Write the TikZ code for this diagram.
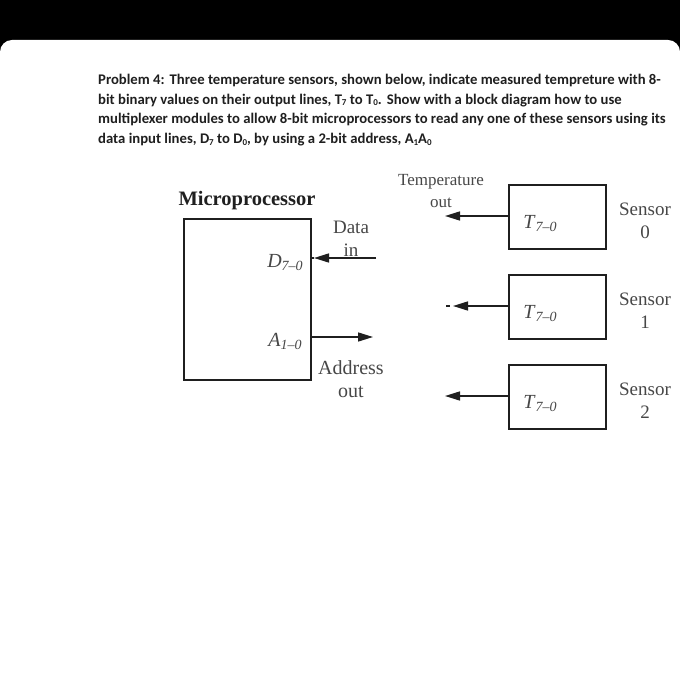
\documentclass[tikz,border=0pt]{standalone}
\usepackage{fontspec}
\setmainfont{Liberation Serif}
\newfontfamily\probfont{Carlito}
\usetikzlibrary{arrows.meta}
\definecolor{ink}{gray}{0.12}
\definecolor{labelink}{gray}{0.28}
\tikzset{
  x=1pt,y=-1pt,
  blockbox/.style={draw=ink,line width=1.9pt,minimum width=#1,inner sep=0pt,anchor=north west},
  lab/.style={text=labelink,font=\fontsize{19}{23}\selectfont,align=center,inner sep=0pt},
  italab/.style={text=labelink,font=\fontsize{20}{22}\selectfont,inner sep=0pt},
  wire/.style={draw=ink,line width=1.5pt},
  tipwire/.style={wire,-{Triangle[length=15pt,width=9pt]}},
}
\newcommand{\sbs}[1]{{\fontsize{9}{10}\selectfont\raisebox{-1.5pt}{#1}}}
\newcommand{\subl}[1]{{\fontsize{14}{15}\selectfont\raisebox{-3pt}{\textit{#1}}}}
\begin{document}
\begin{tikzpicture}
\useasboundingbox (0,0) rectangle (680,700);
\fill[black] (0,0) rectangle (680,700);
\fill[white,rounded corners=12pt] (0,720) -- (0,40) -- (680,40) -- (680,720) -- cycle;
\fill[white] (0,60) rectangle (680,700);

\node[anchor=north west,inner sep=0pt,text width=582pt,align=left,text=ink] (prob) at (98,74)
 {\probfont\bfseries\fontsize{14.7}{19.7}\selectfont
 Problem 4: Three temperature sensors, shown below, indicate measured tempreture with 8-\\
 bit binary values on their output lines, T\sbs{7} to T\sbs{0}. Show with a block diagram how to use\\
 multiplexer modules to allow 8-bit microprocessors to read any one of these sensors using its\\
 data input lines, D\sbs{7} to D\sbs{0}, by using a 2-bit address, A\sbs{1}A\sbs{0}\par};

\node[font=\bfseries\fontsize{20.5}{22}\selectfont,text=ink,inner sep=0pt] (mptitle) at (247,201) {Microprocessor};
\node[blockbox=127pt,minimum height=161pt] (mp) at (183,218) {};
\node[italab] (dlab) at (285,263) {\textit{D}\subl{7--0}};
\node[italab] (alab) at (285,341) {\textit{A}\subl{1--0}};
\node[lab,anchor=north] (datain) at (351,221) {Data\\in};
\node[lab,anchor=north,font=\fontsize{20}{23}\selectfont] (addrout) at (351,360) {Address\\out};

\coordinate (dend) at (376,258);
\coordinate (dtip) at (314,258);
\coordinate (astart) at (mp.east |- 0,337);
\coordinate (aend) at (373,337);
\draw[tipwire] (dend) -- (dtip);
\draw[wire] (dtip) -- (dtip -| mp.east);
\draw[tipwire] (astart) -- (aend);

\node[lab,anchor=north,font=\fontsize{17}{22}\selectfont] (tempout) at (441,174) {Temperature\\out};

\node[blockbox=97pt,minimum height=64pt] (s0) at (508,184) {};
\node[blockbox=97pt,minimum height=64pt] (s1) at (508,274) {};
\node[blockbox=97pt,minimum height=64pt] (s2) at (508,364) {};

\node[italab] (t0) at (540,224) {\textit{T}\subl{7--0}};
\node[italab] (t1) at (540,314) {\textit{T}\subl{7--0}};
\node[italab] (t2) at (540,404) {\textit{T}\subl{7--0}};

\node[lab] (n0) at (645,221) {Sensor\\0};
\node[lab] (n1) at (645,311) {Sensor\\1};
\node[lab] (n2) at (645,401) {Sensor\\2};

\coordinate (e0) at (445,216);
\coordinate (e1) at (453,306);
\coordinate (e1a) at (446,306);
\coordinate (e1b) at (450,306);
\coordinate (e2) at (445,396);
\draw[tipwire] (s0.west |- e0) -- (e0);
\draw[tipwire] (s1.west |- e1) -- (e1);
\draw[wire] (e1a) -- (e1b);
\draw[tipwire] (s2.west |- e2) -- (e2);
\end{tikzpicture}
\end{document}
